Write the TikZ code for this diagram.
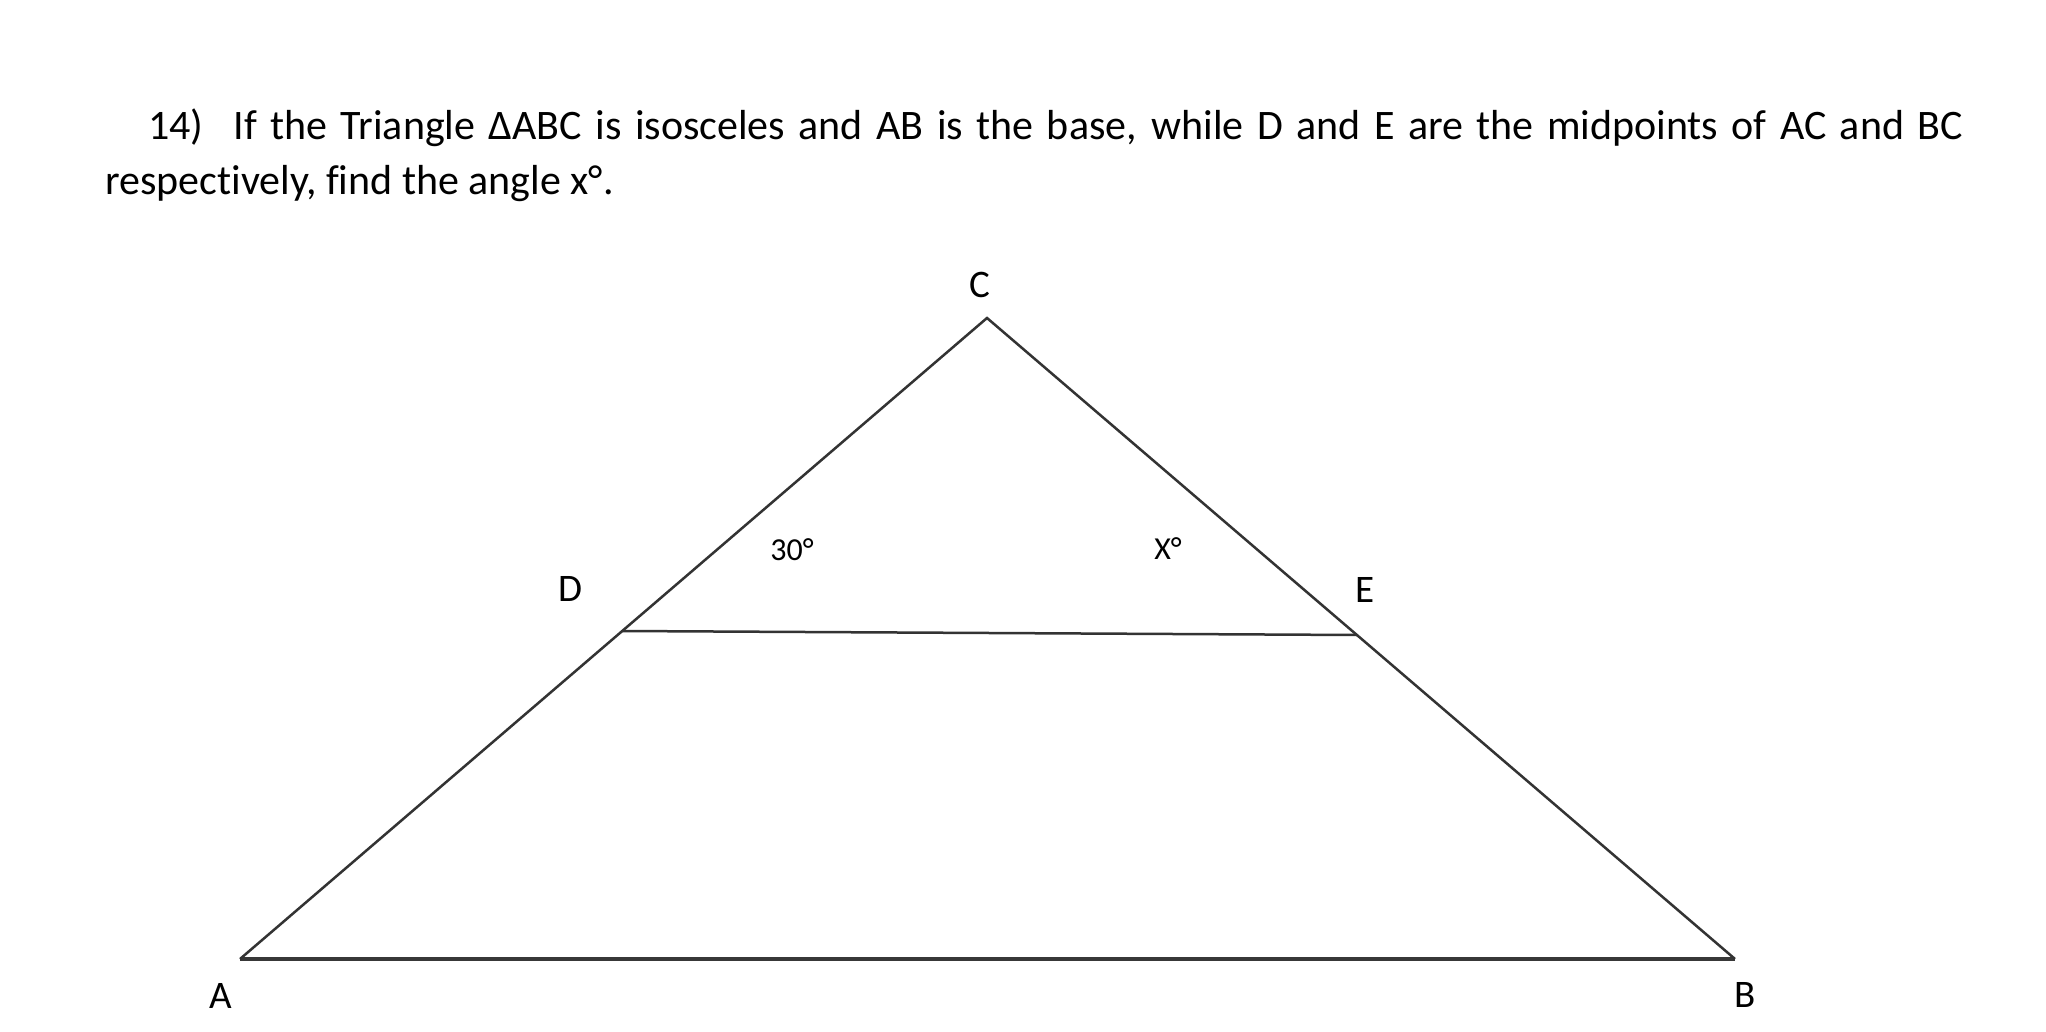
\documentclass[tikz,border=0pt]{standalone}
\usepackage{fontspec}
\setmainfont{Carlito}[Ligatures={NoCommon}]
\begin{document}
\begin{tikzpicture}[x=1pt,y=-1pt,
  side/.style={draw=black!80, line width=2.5pt, line join=miter},
  base/.style={draw=black!78, line width=3.4pt},
  vlabel/.style={anchor=base, inner sep=0pt, font=\fontsize{39}{47}\selectfont},
  alabel/.style={anchor=base, inner sep=0pt, font=\fontsize{32}{38}\selectfont},
  qtext/.style={anchor=base west, inner sep=0pt, font=\fontsize{42}{51}\selectfont}]
\useasboundingbox[fill=white] (0,0) rectangle (2046,1032);
% question text
\node[qtext] (q1) at (148,140) {\makebox[1815pt][s]{14)\hspace{30pt}If the Triangle ΔABC is isosceles and AB is the base, while D and E are the midpoints of AC and BC}};
\node[qtext] (q2) at (105,195) {respectively, find the angle x°.};
% vertices
\coordinate (A) at (240,959);
\coordinate (B) at (1735,959);
\coordinate (C) at (987,318);
\coordinate (D) at (622,631);
\coordinate (E) at (1357,635);
% triangle
\draw[base] (A) -- (B);
\draw[side] (A) -- (C) -- (B);
\draw[side] (D) -- (E);
% labels
\node[vlabel] (lA) at (221,1008) {A};
\node[vlabel] (lB) at (1745,1007) {B};
\node[vlabel] (lC) at (980,298) {C};
\node[vlabel] (lD) at (570,601) {D};
\node[vlabel] (lE) at (1365,602) {E};
\node[alabel] (a30) at (792,560) {30°};
\node[alabel] (ax) at (1168,559) {X°};
\end{tikzpicture}
\end{document}
